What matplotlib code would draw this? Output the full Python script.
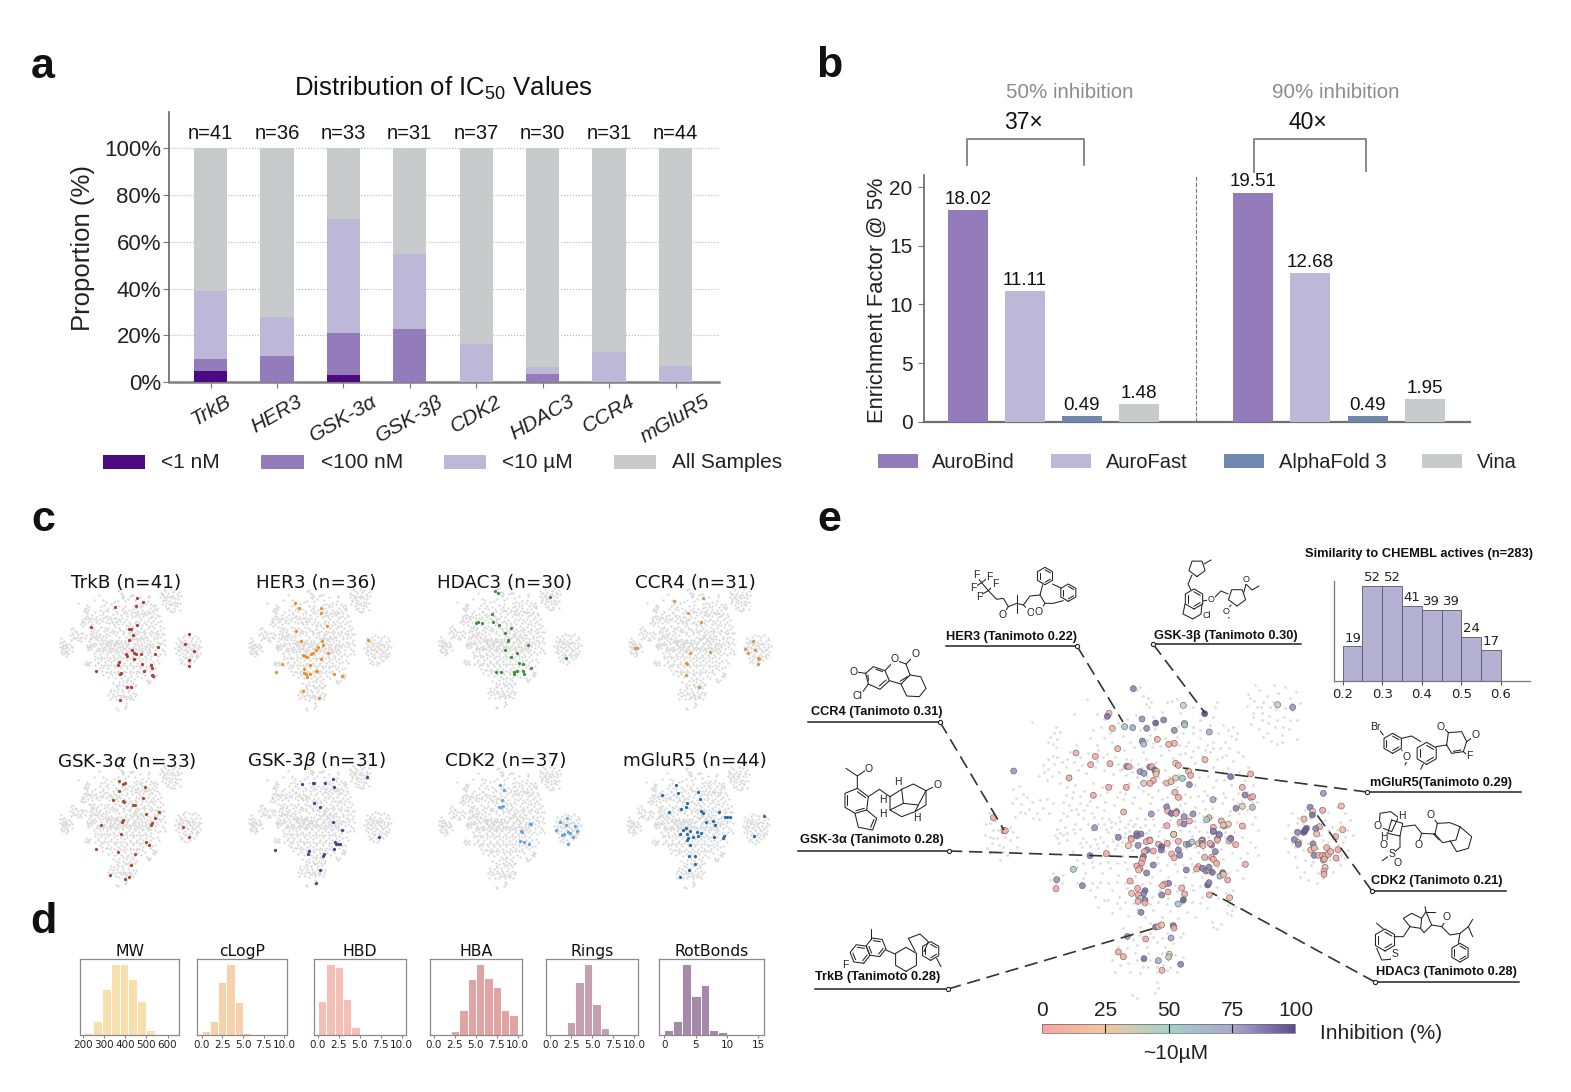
import matplotlib
matplotlib.use("Agg")
import matplotlib.pyplot as plt
import numpy as np
from matplotlib.colors import LinearSegmentedColormap, Normalize
from matplotlib.cm import ScalarMappable
from matplotlib.patches import Rectangle

plt.rcParams['font.family'] = ['Liberation Sans', 'DejaVu Sans']
plt.rcParams['mathtext.fontset'] = 'custom'
plt.rcParams['mathtext.rm'] = 'Liberation Sans'
plt.rcParams['mathtext.it'] = 'DejaVu Sans:italic'
plt.rcParams['mathtext.bf'] = 'Liberation Sans:bold'

W, H = 1571, 1092
WS, HS = 1568, 1090

# ---------- panel a ----------
targets = ['TrkB', 'HER3', 'GSK-3α', 'GSK-3β', 'CDK2', 'HDAC3', 'CCR4', 'mGluR5']
counts = [41, 36, 33, 31, 37, 30, 31, 44]
lt_1nM = [4.9, 0, 3.0, 0, 0, 0, 0, 0]
lt_100nM = [9.8, 11.1, 21.2, 22.6, 0, 3.3, 0, 0]
lt_10uM = [39.0, 27.8, 69.7, 54.8, 16.2, 6.6, 12.9, 6.8]
all_samples = [100] * 8
a_legend = ['<1 nM', '<100 nM', '<10 µM', 'All Samples']
a_colors = ['#4b0a82', '#947bb9', '#bdb8d8', '#c9cacb']

# ---------- panel b ----------
methods = ['AuroBind', 'AuroFast', 'AlphaFold 3', 'Vina']
ef_50 = [18.02, 11.11, 0.49, 1.48]
ef_90 = [19.51, 12.68, 0.49, 1.95]
b_colors = ['#947bb9', '#bdb8d8', '#7088b0', '#c9cacb']

# ---------- t-SNE background points ----------
gray_cloud = [
(490,78),(503,84),(512,96),(497,103),(508,112),(470,60),(480,52),(575,92),(590,88),(562,96),(712,96),(705,110),(320,88),(157,155),(282,132),
(805,72),(822,92),(838,60),(860,78),(882,44),(895,70),(915,52),(930,84),(948,66),(800,108),(818,128),(842,112),(866,138),(888,118),(912,142),
(936,120),(952,150),(812,162),(838,176),(862,190),(884,172),(905,196),(928,178),(950,206),(872,212),(890,222),(846,150),(960,100),(825,45),(880,95),
(350,132),(372,146),(362,170),(390,190),(415,160),(440,148),(468,135),(520,140),(545,126),(600,130),(640,110),(660,150),(700,140),(730,165),(745,180),
(228,172),(222,190),(210,202),(232,208),(218,222),(240,185),(205,215),(228,232),(760,170),(772,190),(752,198),(768,208),
(340,180),(330,205),(352,225),(372,205),(395,215),(430,198),(450,215),(480,180),(510,195),(525,178),(555,205),(590,200),(610,190),(625,215),(640,188),
(660,205),(680,225),(700,215),(720,235),(735,215),(288,225),(270,245),(300,262),(325,250),(355,240),(382,252),(405,262),(432,240),(462,232),(490,245),
(515,232),(542,255),(568,240),(600,252),(618,228),(640,242),(665,258),(690,245),(712,268),(738,255),(760,272),(790,258),(805,290),
(190,285),(205,298),(222,282),(238,305),(215,318),(200,330),(258,290),(270,315),(295,300),(318,310),(345,290),(372,300),(398,312),(425,298),(452,270),
(475,282),(498,268),(528,275),(555,300),(580,265),(610,290),(645,280),(672,300),(700,290),(725,310),(745,295),(778,305),(795,330),(820,345),
(240,340),(262,352),(285,345),(312,362),(340,340),(365,352),(395,345),(420,365),(448,340),(475,350),(505,372),(535,360),(560,380),(590,352),(615,372),
(645,345),(672,362),(700,350),(728,368),(752,345),(775,370),(800,365),(830,395),(100,358),(118,348),(130,372),(108,385),(95,400),(122,402),(142,380),(155,395),
(180,390),(200,388),(218,400),(190,415),(208,430),(172,428),(148,418),(135,430),(160,445),(178,448),(120,425),(105,440),
(250,395),(275,385),(300,400),(330,392),(352,410),(375,395),(402,405),(428,388),(455,400),(480,415),(510,398),(535,420),(560,400),(588,415),(615,398),
(645,410),(670,392),(695,415),(725,400),(750,422),(775,400),(800,420),(825,440),
(240,450),(262,438),(285,462),(310,445),(335,430),(342,440),(355,462),(372,420),(365,445),(392,455),(418,440),(445,462),(470,445),(495,465),(520,448),
(545,470),(570,450),(595,468),(620,445),(645,470),(670,455),(695,470),(720,448),(745,472),(770,455),(795,475),(815,462),(835,480),
(28,430),(45,452),(18,462),(62,470),(40,480),(75,500),(52,505),(15,495),(35,520),(70,530),(90,510),(48,545),(22,535),(80,555),(60,570),(100,485),(112,530),
(230,478),(240,490),(232,505),(248,495),(238,520),(225,495),(255,470),(262,510),(285,490),(310,505),(335,480),(360,500),(385,485),(410,505),(435,490),(460,510),
(485,495),(510,515),(535,498),(560,515),(585,495),(610,515),(635,498),(660,518),(685,500),(710,520),(735,500),(760,518),(785,500),(810,515),
(280,545),(305,530),(330,552),(355,535),(380,555),(405,538),(430,558),(455,540),(480,560),(505,542),(530,562),(555,545),(580,565),(605,545),(630,565),(655,545),
(680,568),(705,548),(730,568),(755,548),(780,565),(800,550),(825,530),(835,555),
(220,610),(235,625),(250,615),(228,640),(245,640),(210,630),(290,590),(315,610),(340,590),(365,610),(390,595),(415,615),(440,598),(465,618),(490,600),(515,620),
(540,600),(565,622),(590,602),(615,622),(640,605),(665,622),(690,608),(715,625),(740,610),(770,600),(790,625),(745,705),(755,720),(740,728),(765,712),(752,735),
(330,660),(352,650),(345,680),(355,712),(372,690),(395,660),(418,680),(442,655),(468,680),(492,660),(515,682),(540,660),(565,685),(590,662),(615,685),(640,660),
(665,680),(690,665),(715,685),(738,668),(760,660),(395,730),(420,715),(445,738),(470,718),(495,740),(520,720),(545,742),(570,722),(595,745),(620,725),(645,740),
(700,770),(712,778),(695,755),(722,762),(430,775),(455,790),(480,770),(510,790),(535,772),(560,790),(585,775),(610,790),
(410,850),(395,870),(420,885),(405,905),(430,860),(445,880),(465,850),(485,870),(505,850),(525,875),(545,850),(565,870),(585,855),(610,860),(600,880),(450,905),
(480,910),(505,890),(530,905),(560,900),(590,905),(470,825),(500,830),(530,815),(555,830),(580,820),(530,935),(535,955),(455,975),(470,985),(525,970),
(935,430),(955,445),(975,420),(995,405),(1020,415),(1045,425),(1070,410),(1095,430),(1110,450),(925,465),(945,480),(968,460),(990,445),(1010,465),(1035,450),
(1055,470),(1080,455),(1100,480),(1118,495),(915,505),(935,520),(955,500),(978,490),(1000,510),(1022,495),(1045,515),(1065,500),(1090,515),(925,545),(945,560),
(968,540),(990,555),(1012,535),(1035,555),(1060,540),(1082,555),(1105,540),(950,590),(972,605),(992,585),(1015,610),(1040,590),(1060,605),(1080,585),(985,630),(1010,640),
# denser parts of the map
(378,478),(392,470),(405,492),(418,476),(432,502),(446,484),(458,468),(472,498),(398,512),(412,526),(426,516),(440,530),(455,522),(470,534),(484,518),(498,532),
(382,528),(368,516),(352,522),(344,506),(330,528),(318,516),(300,520),(372,462),(388,446),(404,458),(420,452),(436,470),(450,450),(465,462),(480,472),(494,446),
(508,480),(522,466),(536,482),(550,462),(498,488),(512,502),(526,512),(540,524),(552,506),(566,530),(578,510),(592,528),(604,506),(618,534),(630,512),(644,530),
(656,506),(668,536),(682,516),(696,534),(708,510),(722,536),(600,480),(615,462),(628,484),(642,452),(656,482),(668,438),(682,486),(694,440),(708,490),(720,470),
(735,486),(748,436),(762,486),(776,430),(788,462),(560,430),(576,438),(592,432),(608,424),(624,436),(640,424),(656,430),(676,418),(600,405),(630,382),(655,378),
(680,376),(708,385),(735,380),(760,388),(785,392),(815,395),(360,375),(382,365),(410,380),(436,372),(462,382),(488,362),(515,382),(545,388),(572,368),(602,388),
(300,378),(278,365),(258,375),(268,405),(288,418),(312,420),(322,405),(250,428),(272,420),(295,432),(325,462),(300,476),(278,478),(262,488),
(420,300),(438,315),(456,305),(470,320),(486,295),(502,318),(518,305),(534,322),(546,335),(566,320),(578,335),(598,312),(612,328),(632,300),(658,322),(684,318),(708,330),(732,330),(760,320),
(370,260),(392,278),(415,282),(438,268),(460,292),(350,272),(330,280),(306,285),(282,275),(262,268),(245,275),(232,262),(218,258),(205,268),(192,305),(178,318),
(500,210),(520,218),(540,228),(575,220),(598,225),(615,250),(632,262),(655,230),(675,240),(700,235),(725,260),(748,235),(775,245),(595,168),(618,160),(640,170),(660,180),(690,165),(715,190),
(290,570),(310,580),(335,575),(360,580),(385,575),(410,580),(435,575),(460,582),(485,578),(510,585),(535,580),(560,585),(585,582),(610,585),(635,582),(660,588),(685,582),(715,590),
(290,640),(310,625),(335,640),(360,635),(385,640),(410,635),(435,640),(460,638),(485,642),(510,640),(535,645),(560,640),(585,645),(610,642),(635,645),(660,648),(685,642),(710,650),
(385,690),(410,698),(435,695),(460,700),(485,695),(510,702),(535,695),(560,702),(585,695),(610,700),(635,695),(660,700),(680,715),
(470,870),(490,890),(510,870),(530,890),(550,885),(570,890),(415,830),(440,835),(458,810),(520,800),(545,805),(575,805),(600,800),(480,795),(510,760),(540,755),(570,760),
(950,460),(970,475),(988,468),(1005,485),(1025,475),(1045,480),(1070,480),(938,500),(962,510),(985,520),(1008,530),(1030,510),(1050,530),(1075,525),(1095,500),(945,530),(975,570),(1000,575),(1025,575),(1050,570),(1075,570),(1095,565),(960,620),(1030,625),
(30,460),(55,480),(65,490),(30,500),(40,505),(58,525),(30,550),(70,545),(90,470),(110,500),
(810,85),(830,110),(850,95),(870,110),(895,100),(915,115),(935,100),(820,140),(845,130),(865,160),(890,150),(910,170),(930,150),(850,200),(905,215),
]
gray_x = [p[0] for p in gray_cloud]
gray_y = [p[1] for p in gray_cloud]

# ---------- panel c: hits on the map, per target ----------
c_titles = ['TrkB (n=41)', 'HER3 (n=36)', 'GSK-3$\\alpha$ (n=33)', 'GSK-3$\\beta$ (n=31)',
            'HDAC3 (n=30)', 'CCR4 (n=31)', 'CDK2 (n=37)', 'mGluR5 (n=44)']
c_colors = ['#b23b3b', '#e8912d', '#a8502e', '#5a3a96', '#3f8f3f', '#d09a50', '#66a3e0', '#2a6ea6']
trkb_pts = [(322,115),(340,125),(256,142),(317,138),(321,194),(183,202),(297,208),(303,207),(309,226),(297,241),(383,261),(305,270),(288,282),(290,289),(312,280),(318,283),(333,282),(311,296),(376,283),(335,312),(266,307),(264,315),(363,316),(366,325),(343,332),(272,338),(269,343),(198,332),(367,346),(370,349),(292,381),(303,381),(269,421),(477,221),(465,251),(491,273),(478,300),(477,318)]
her3_pts = [(796,128),(807,145),(873,144),(873,160),(892,199),(797,213),(814,243),(877,242),(880,255),(865,260),(858,270),(850,278),(843,281),(820,284),(826,288),(830,290),(894,279),(872,298),(840,316),(823,326),(756,312),(737,336),(823,340),(827,343),(840,341),(831,352),(858,332),(862,333),(913,342),(937,348),(819,394),(867,415),(1014,241)]
gsk3a_pts = [(268,664),(278,671),(284,670),(345,680),(267,692),(340,714),(250,721),(278,723),(282,725),(308,736),(315,736),(349,762),(387,757),(376,773),(278,780),(276,787),(366,790),(362,794),(213,796),(273,823),(348,846),(356,855),(198,867),(263,876),(315,883),(303,915),(240,946),(286,957),(297,952),(458,800),(477,832)]
gsk3b_pts = [(816,673),(848,670),(852,670),(885,670),(908,658),(913,680),(1010,650),(852,729),(869,740),(910,787),(937,811),(915,846),(918,851),(925,851),(931,851),(911,866),(838,873),(833,881),(882,882),(878,887),(736,870),(869,930),(858,968),(1046,832)]
hdac3_pts = [(225,93),(233,100),(215,162),(168,189),(175,186),(187,189),(220,187),(237,196),(272,204),(256,218),(265,240),(263,242),(325,254),(254,271),(292,279),(274,291),(297,310),(310,313),(333,325),(229,337),(243,336),(281,336),(283,343),(291,333),(309,333),(312,343),(391,112),(438,295)]
ccr4_pts = [(763,124),(850,114),(804,160),(843,187),(645,265),(650,265),(810,278),(871,277),(798,310),(800,313),(797,344),(838,380),(1000,243),(975,267),(1004,270),(983,280),(1013,295),(1017,297),(1013,313)]
cdk2_pts = [(240,675),(251,689),(245,721),(238,741),(244,741),(248,738),(330,793),(334,792),(303,812),(306,817),(299,843),(311,846),(326,851),(420,785),(442,775),(438,796),(409,810),(466,798),(445,816),(450,820),(432,822),(425,825),(458,832),(472,812),(444,852)]
mglur5_pts = [(768,675),(775,700),(725,706),(833,695),(840,718),(800,728),(797,741),(784,747),(746,757),(842,753),(848,758),(897,757),(914,771),(920,771),(930,771),(880,784),(884,796),(857,787),(797,804),(790,810),(810,812),(781,822),(802,822),(820,830),(832,815),(843,818),(835,829),(805,835),(802,840),(809,855),(882,831),(908,835),(912,827),(806,887),(824,887),(825,913),(806,930),(780,952),(1033,769),(1001,829)]
c_points = [trkb_pts, her3_pts, gsk3a_pts, gsk3b_pts, hdac3_pts, ccr4_pts, cdk2_pts, mglur5_pts]

# ---------- panel d ----------
d_titles = ['MW', 'cLogP', 'HBD', 'HBA', 'Rings', 'RotBonds']
mw_edges = [204, 247, 290, 332, 374, 415, 456, 498, 540]
mw_h = [3, 19, 65, 100, 100, 78, 47, 7]
clogp_edges = [0, 1, 2, 3, 4, 5, 6]
clogp_h = [5, 19, 74, 100, 46, 3]
hbd_edges = [0, 1, 2, 3, 4, 5]
hbd_h = [48, 100, 95, 50, 11]
hba_edges = [2, 3, 4, 5, 6, 7, 8, 9, 10]
hba_h = [5, 35, 78, 100, 80, 67, 35, 28]
rings_edges = [2, 3, 4, 5, 6, 7]
rings_h = [18, 75, 100, 43, 9]
rot_edges = [0, 1.45, 2.9, 4.3, 5.8, 7.2, 8.65, 10]
rot_h = [7, 20, 100, 55, 70, 7, 4]
d_colors = ['#f8dfae', '#f7d0ac', '#f4bfb4', '#e2a3a4', '#c7a0b0', '#a688a8']

# ---------- panel e ----------
# (map x, map y, inhibition %)
tested = [
(460,56,85),(610,106,35),(893,104,35),(938,112,80),(387,130,15),(382,139,90),(486,147,80),(527,159,95),(551,150,85),(434,170,55),(458,173,75),(500,175,82),(397,175,8),(613,160,50),(614,165,55),(583,181,82),(674,131,100),(688,186,72),(532,208,5),(487,213,85),(491,222,58),(566,223,5),(583,220,5),(288,249,5),(413,236,5),(346,259,3),(332,284,5),(390,281,5),(101,303,80),(675,269,12),(587,280,30),(595,286,3),(440,289,85),(447,290,5),(509,291,85),(516,290,5),(524,300,90),(530,304,30),(528,312,20),(480,305,82),(492,310,80),(625,303,15),(632,316,3),(752,320,90),(812,312,3),(267,324,5),(520,331,5),(510,340,5),(491,340,35),(560,339,12),(573,335,15),(587,324,30),(607,325,55),(628,344,85),(386,352,3),(439,352,3),(340,376,3),(585,367,6),(595,382,3),(787,352,3),(795,375,85),(812,382,3),(818,380,3),(699,389,75),(768,415,85),(787,409,30),(817,412,60),(431,426,5),(560,411,85),(563,423,3),(574,430,90),(590,425,85),(588,430,3),(514,432,80),(612,440,82),(639,432,82),(600,457,5),(628,453,5),(612,462,85),(687,443,10),(680,449,50),(561,467,3),(724,453,5),(733,468,3),(745,462,30),(730,465,20),(787,468,3),(700,472,3),(700,484,82),(344,473,80),(717,494,82),(581,493,30),(415,502,85),(453,505,5),(470,491,85),(483,492,85),(471,498,90),(508,510,5),(667,510,95),(752,505,85),(712,507,3),(40,443,3),(72,482,3),(76,482,10),
(454,508,5),(445,527,25),(474,526,82),(499,515,3),(510,512,5),(536,523,5),(562,520,5),(595,514,5),(545,530,95),(544,540,90),(595,540,85),(520,543,3),(501,540,85),(493,545,5),(575,552,15),(582,563,8),(599,556,85),(490,560,90),(488,568,5),(484,580,3),(471,588,5),(480,595,5),(476,600,20),(520,585,85),(500,609,85),(619,523,60),(627,522,85),(636,516,50),(656,521,25),(666,513,20),(666,520,85),(669,526,20),(695,525,85),(690,520,5),(712,510,5),(706,545,85),(674,562,8),(695,562,5),(700,568,5),(710,580,3),(619,600,85),(655,590,5),(650,597,5),(668,595,85),(678,603,85),(687,600,5),(697,607,90),(687,592,85),(720,618,60),(728,608,90),(730,613,20),(743,630,3),(796,583,5),(767,524,5),(747,513,30),(752,507,85),(718,494,85),(700,484,85),(581,493,30),(330,557,85),(379,551,3),(280,598,50),(230,629,80),(228,656,3),(307,647,85),(450,633,5),(473,655,3),(495,662,90),(490,672,85),(455,670,15),(475,675,5),(482,685,50),(474,694,5),(495,690,85),(495,699,10),(566,640,85),(554,642,5),(548,647,8),(564,666,3),(545,675,85),(605,654,8),(614,672,5),(610,690,95),(595,702,55),(688,675,5),(683,645,95),(687,638,85),(749,683,10),(483,727,85),(527,771,90),(535,770,5),(545,765,15),(580,767,90),(582,774,3),(442,799,80),(497,807,3),(573,804,75),(415,846,5),(430,860,5),(492,866,90),(535,872,70),(568,853,25),(566,861,40),(602,883,85),(546,901,5),
(1030,370,80),(990,412,85),(998,424,30),(1028,421,5),(997,435,90),(1084,408,12),(972,447,10),(1018,470,8),(1007,476,85),(979,475,95),(971,487,95),(975,482,95),(953,487,85),(1010,492,15),(1088,479,15),(1067,500,8),(943,509,85),(955,518,5),(955,523,85),(999,522,85),(1040,533,5),(992,540,15),(1003,534,12),(1074,539,3),(1003,556,85),(1016,556,5),(1028,556,10),(1037,557,12),(1045,553,10),(1052,545,10),(1068,564,5),(1030,570,58),(1033,567,3),(1035,592,30),(1032,604,5),(1032,613,3),
]
tested_x = [t[0] for t in tested]
tested_y = [t[1] for t in tested]
tested_v = [t[2] for t in tested]
inh_ticks = [0, 25, 50, 75, 100]
inh_colors = ['#f9a3a3', '#f0c8a0', '#a3d1c9', '#a9a8cf', '#5e4a8e']
sim_edges = [0.2, 0.25, 0.3, 0.35, 0.4, 0.45, 0.5, 0.55, 0.6]
sim_counts = [19, 52, 52, 41, 39, 39, 24, 17]
callouts = [
    # text, text centre x, text y, line x0, line x1, line y, circle x, circle y, end x, end y
    ('HER3 (Tanimoto 0.22)', 1012, 637, 946, 1077, 646, 1077, 646, 1123, 722),
    ('GSK-3β (Tanimoto 0.30)', 1226, 636, 1153, 1301, 644, 1153, 644, 1205, 713),
    ('CCR4 (Tanimoto 0.31)', 877, 712, 808, 940, 722, 940, 722, 1004, 830),
    ('GSK-3α (Tanimoto 0.28)', 872, 840, 798, 949, 851, 949, 851, 1138, 857),
    ('TrkB (Tanimoto 0.28)', 878, 977, 815, 948, 989, 948, 989, 1155, 928),
    ('mGluR5(Tanimoto 0.29)', 1441, 783, 1367, 1521, 792, 1367, 792, 1183, 768),
    ('CDK2 (Tanimoto 0.21)', 1437, 881, 1372, 1506, 891, 1372, 891, 1317, 815),
    ('HDAC3 (Tanimoto 0.28)', 1446, 972, 1375, 1519, 982, 1375, 982, 1212, 893),
]

# ---------- figure ----------
fig = plt.figure(figsize=(W / 100, H / 100), dpi=100, facecolor='white')


def box(x0, y0, x1, y1, **kw):
    return fig.add_axes([x0 / W, 1 - y1 / H, (x1 - x0) / W, (y1 - y0) / H], **kw)


def boxm(x0, y0, x1, y1, **kw):
    return fig.add_axes([x0 / WS, 1 - y1 / HS, (x1 - x0) / WS, (y1 - y0) / HS], **kw)


ov = box(0, 0, W, H, zorder=20)
ov.set_xlim(0, W)
ov.set_ylim(H, 0)
ov.axis('off')
ov.patch.set_alpha(0)
ovm = boxm(0, 0, WS, HS, zorder=21)
ovm.set_xlim(0, WS)
ovm.set_ylim(HS, 0)
ovm.axis('off')
ovm.patch.set_alpha(0)


def label(x, y, s, size, ha='center', va='center', **kw):
    ovm.text(x, y + 1.5, s, fontsize=size, ha=ha, va=va, **kw)


for s, x, y in [('a', 43, 65), ('b', 828, 64), ('c', 43, 518), ('d', 43, 919), ('e', 828, 518)]:
    label(x, y, s, 31, fontweight='bold', color='#111111')

# panel a
axa = boxm(169, 112, 718, 381.5)
xa = np.arange(len(targets))
for vals, col, z in [(all_samples, a_colors[3], 2), (lt_10uM, a_colors[2], 3), (lt_100nM, a_colors[1], 4), (lt_1nM, a_colors[0], 5)]:
    axa.bar(xa, vals, width=0.5, color=col, zorder=z)
axa.set_xlim(-0.62, 7.66)
axa.set_ylim(0, 115.5)
axa.set_yticks([0, 20, 40, 60, 80, 100])
axa.set_yticklabels(['0%', '20%', '40%', '60%', '80%', '100%'], fontsize=16, color='#222222')
axa.set_xticks(xa)
axa.set_xticklabels(targets, rotation=30, ha='center', fontsize=15, style='italic', color='#222222')
axa.tick_params(axis='x', pad=3, length=4, color='#777777')
axa.tick_params(axis='y', pad=2, length=4, color='#777777')
axa.grid(axis='y', color='#b5b5b5', ls=':', lw=0.8, zorder=1)
axa.set_axisbelow(True)
for sp in ['top', 'right']:
    axa.spines[sp].set_visible(False)
axa.spines['left'].set_color('#666666')
axa.spines['left'].set_linewidth(1.2)
axa.spines['bottom'].set_color('#808080')
axa.spines['bottom'].set_linewidth(1.8)
for x, n in zip(xa, counts):
    axa.text(x, 106.4, f'n={n}', ha='center', va='center', fontsize=14.5, color='#111111')
label(442, 87, 'Distribution of IC$_{50}$ Values', 18.5, color='#111111')
label(83, 246, 'Proportion (%)', 18.5, rotation=90, color='#222222')
for x0, tx, s, c in zip([103, 261, 443, 613], [161, 320, 501, 671], a_legend, a_colors):
    ovm.add_patch(Rectangle((x0, 454), 42, 14, color=c, lw=0))
    label(tx, 460.5, s, 15, ha='left', color='#222222')

# panel b
axb = boxm(922, 175, 1467, 421)
xb = [0, 1, 2, 3, 5, 6, 7, 8]
for x, v, c in zip(xb, ef_50 + ef_90, b_colors * 2):
    axb.bar(x, v, width=0.7, color=c, zorder=3)
    axb.text(x, v + 0.2, f'{v:.2f}', ha='center', va='bottom', fontsize=13.5, color='#111111')
axb.axvline(4, color='#777777', ls='--', lw=0.8)
axb.set_xlim(-0.77, 8.79)
axb.set_ylim(0, 21)
axb.set_yticks([0, 5, 10, 15, 20])
axb.set_xticks([])
axb.tick_params(axis='y', labelsize=15, length=4, color='#777777', labelcolor='#222222', pad=4)
for sp in ['top', 'right']:
    axb.spines[sp].set_visible(False)
axb.spines['left'].set_color('#666666')
axb.spines['left'].set_linewidth(1.2)
axb.spines['bottom'].set_color('#707070')
axb.spines['bottom'].set_linewidth(1.6)
label(876, 298, 'Enrichment Factor @ 5%', 15.8, rotation=90, color='#222222')
for x, s in [(1068, '50% inhibition'), (1333, '90% inhibition')]:
    label(x, 91, s, 14.8, color='#8c8c8c')
label(1022, 121, '37×', 16.5, color='#111111')
label(1305, 121, '40×', 16.5, color='#111111')
ovm.plot([965, 965, 1082, 1082], [165, 139, 139, 165], color='#808080', lw=1.3)
ovm.plot([1252, 1252, 1363, 1363], [172, 139, 139, 171], color='#808080', lw=1.3)
for x0, tx, s, c in zip([876, 1049, 1222, 1419], [930, 1104, 1277, 1474], methods, b_colors):
    ovm.add_patch(Rectangle((x0, 453), 40, 14, color=c, lw=0))
    label(tx, 460, s, 14.5, ha='left', color='#222222')

# panel c
blob_c = [(472, 270), (1040, 270), (472, 800), (1040, 800), (440, 265), (1010, 268), (440, 805), (1005, 805)]
origin_c = [(30, 560), (30, 560), (30, 560), (30, 560), (420, 560), (420, 560), (420, 560), (420, 560)]
title_c = [(126, 580), (316, 580), (126, 758), (316, 758), (504, 580), (694, 580), (505, 758), (694, 758)]
SC = 2.6
for pts, col, (bx, by), (ox, oy), ttl, (tx, ty) in zip(c_points, c_colors, blob_c, origin_c, c_titles, title_c):
    wx0, wx1 = bx - 420, bx + 70
    wy0, wy1 = by - 205, by + 200
    ax = box(ox + wx0 / 3, oy + wy0 / 3, ox + wx1 / 3, oy + wy1 / 3)
    ax.set_xlim(wx0, wx1)
    ax.set_ylim(wy1, wy0)
    ax.axis('off')
    ax.scatter(bx + (np.array(gray_x) - 1010) / SC, by + (np.array(gray_y) - 520) / SC, s=2.6, color='#d6d6d6', lw=0)
    ax.scatter([p[0] for p in pts], [p[1] for p in pts], s=5.5, color=col, lw=0, zorder=3)
    label(tx, ty, ttl, 13.2, family=['DejaVu Sans'], color='#111111')

# panel d
d_boxes = [(80, 179), (197, 286), (313, 405), (429, 521), (545, 637), (658, 763)]
d_xlim = [(186, 656), (-0.5, 10.25), (-0.5, 10.5), (-0.5, 10.5), (-0.5, 10.5), (-0.8, 16)]
d_ticks = [[200, 300, 400, 500, 600]] + [[0, 2.5, 5, 7.5, 10]] * 4 + [[0, 5, 10, 15]]
d_labels = [['200', '300', '400', '500', '600']] + [['0.0', '2.5', '5.0', '7.5', '10.0']] * 4 + [['0', '5', '10', '15']]
d_edges = [mw_edges, clogp_edges, hbd_edges, hba_edges, rings_edges, rot_edges]
d_heights = [mw_h, clogp_h, hbd_h, hba_h, rings_h, rot_h]
for (x0, x1), xl, tk, tl, ed, hh, c, t in zip(d_boxes, d_xlim, d_ticks, d_labels, d_edges, d_heights, d_colors, d_titles):
    ax = boxm(x0, 957, x1, 1033)
    ax.bar(ed[:-1], hh, width=np.diff(ed), align='edge', color=c, edgecolor='white', lw=0.7)
    ax.set_xlim(*xl)
    ax.set_ylim(0, 107)
    ax.set_yticks([])
    ax.set_xticks(tk)
    ax.set_xticklabels(tl, fontsize=7.5, family=['DejaVu Sans'], color='#222222')
    ax.tick_params(axis='x', length=2, pad=2, color='#888888')
    for sp in ax.spines.values():
        sp.set_color('#8a8a8a')
        sp.set_linewidth(0.9)
    label((x0 + x1) / 2, 948, t, 11.3, family=['DejaVu Sans'], color='#111111')

# panel e
cmap = LinearSegmentedColormap.from_list('inh', list(zip(np.array(inh_ticks) / 100, inh_colors)))
norm = Normalize(0, 100)
axe = box(980, 670, 1380, 1000)
axe.set_xlim(0, 1200)
axe.set_ylim(990, 0)
axe.axis('off')
axe.scatter(gray_x, gray_y, s=4, color='#dcdcdc', lw=0)
axe.scatter(tested_x, tested_y, c=tested_v, cmap=cmap, norm=norm, s=19, edgecolor='#55505a',
            linewidth=0.4, alpha=0.9, zorder=3)

for s, tx, ty, lx0, lx1, ly, cx, cy, ex, ey in callouts:
    ov.text(tx, ty, s, fontsize=9.2, fontweight='bold', color='#111111', ha='center', va='center')
    ov.plot([lx0, lx1], [ly, ly], color='#222222', lw=1.1)
    ov.plot([cx, ex], [cy, ey], color='#333333', lw=1.2, dashes=(8, 4))
    ov.plot([cx], [cy], 'o', ms=3, mfc='white', mec='#222222', mew=0.8)

axi = boxm(1331, 580, 1527, 680)
axi.bar(sim_edges[:-1], sim_counts, width=np.diff(sim_edges), align='edge', color='#b5b1d3',
        edgecolor='#55556a', lw=0.6)
for l, w, v in zip(sim_edges[:-1], np.diff(sim_edges), sim_counts):
    axi.text(l + w / 2, v + 1, str(v), ha='center', va='bottom', fontsize=9.5, family=['DejaVu Sans'], color='#222222')
axi.set_xlim(0.177, 0.673)
axi.set_ylim(0, 54.6)
axi.set_yticks([])
axi.set_xticks([0.2, 0.3, 0.4, 0.5, 0.6])
axi.set_xticklabels(['0.2', '0.3', '0.4', '0.5', '0.6'], fontsize=9.5, family=['DejaVu Sans'], color='#222222')
axi.tick_params(axis='x', length=3, pad=2, color='#555555')
for sp in ['top', 'right']:
    axi.spines[sp].set_visible(False)
for sp in ['left', 'bottom']:
    axi.spines[sp].set_color('#777777')
    axi.spines[sp].set_linewidth(0.9)
label(1416, 551, 'Similarity to CHEMBL actives (n=283)', 9.3, fontweight='bold', color='#111111')

cax = boxm(1040, 1022, 1293, 1031)
cb = fig.colorbar(ScalarMappable(norm=norm, cmap=cmap), cax=cax, orientation='horizontal', ticks=inh_ticks)
cax.xaxis.set_ticks_position('top')
cax.tick_params(axis='x', length=0, pad=3, labelsize=15, labelcolor='#222222')
cb.outline.set_linewidth(0.5)
cb.outline.set_edgecolor('#666666')
for v in inh_ticks[1:-1]:
    cax.axvline(v, color='#222222', lw=0.8)
label(1378, 1030, 'Inhibition (%)', 15, color='#222222')
label(1173, 1050, '~10µM', 15, color='#222222')

# ---------- molecule sketches (line art, not data) ----------
MC = '#222222'


def path(pts, closed=False, ox=0, oy=0, k=1 / 3):
    p = list(pts) + ([pts[0]] if closed else [])
    ov.plot([ox + a * k for a, b in p], [oy + b * k for a, b in p], color=MC, lw=0.75, solid_capstyle='round', zorder=5)


def hexa(cx, cy, r, ox=0, oy=0, k=1 / 3, n=6, rot=0.0, inner=True):
    ang = np.deg2rad(rot) + np.arange(n) * 2 * np.pi / n
    pts = [(cx + r * np.sin(a), cy + r * np.cos(a)) for a in ang]
    path(pts, True, ox, oy, k)
    if inner:
        for i in (0, 2, 4):
            a0, a1 = ang[i], ang[(i + 1) % n]
            path([(cx + .72 * r * np.sin(a0), cy + .72 * r * np.cos(a0)), (cx + .72 * r * np.sin(a1), cy + .72 * r * np.cos(a1))], False, ox, oy, k)


def atom(x, y, s, ox=0, oy=0, k=1 / 3, size=7.5):
    ov.text(ox + x * k, oy + y * k, s, fontsize=size, ha='center', va='center', color=MC, zorder=6,
            bbox=dict(fc='white', ec='none', pad=0.2))


# HER3
o = (800, 560)
hexa(735, 48, 26, *o); hexa(805, 98, 26, *o)
path([(545, 68), (565, 92), (590, 118), (610, 115), (625, 140), (650, 130), (670, 135), (690, 108), (720, 105), (735, 130), (760, 130), (790, 122)], False, *o)
path([(625, 140), (612, 160)], False, *o); path([(650, 105), (650, 160)], False, *o); path([(670, 135), (688, 152)], False, *o)
path([(735, 130), (722, 150)], False, *o); path([(720, 105), (728, 74)], False, *o); path([(757, 72), (783, 84)], False, *o)
path([(545, 68), (528, 48)], False, *o); path([(545, 68), (566, 52)], False, *o); path([(545, 68), (522, 82)], False, *o); path([(565, 92), (583, 74)], False, *o); path([(565, 92), (540, 106)], False, *o)
for x, y, s in [(528, 44, 'F'), (568, 50, 'F'), (520, 85, 'F'), (585, 72, 'F'), (537, 110, 'F'), (608, 165, 'O'), (692, 158, 'O'), (716, 155, 'O')]:
    atom(x, y, s, *o)
# CCR4
path([(197, 340), (220, 320), (255, 332), (268, 362), (240, 388), (205, 372)], True, *o)
path([(228, 328), (248, 335)], False, *o); path([(258, 360), (238, 378)], False, *o); path([(205, 362), (204, 345)], False, *o)
path([(255, 332), (285, 300), (318, 312), (330, 345), (303, 372), (268, 362)], False, *o)
path([(322, 350), (300, 364)], False, *o); path([(318, 312), (345, 285)], False, *o)
path([(330, 345), (362, 350), (378, 385), (358, 410), (320, 408), (303, 372)], False, *o)
path([(197, 340), (168, 336)], False, *o); path([(205, 372), (185, 400)], False, *o)
for x, y, s in [(160, 335, 'O'), (172, 408, 'Cl'), (285, 298, 'O'), (347, 283, 'O')]:
    atom(x, y, s, *o)
# GSK-3 alpha
o = (800, 750)
path([(172, 115), (205, 140), (200, 180), (165, 190), (135, 172), (135, 130)], True, *o)
path([(142, 165), (142, 136)], False, *o); path([(172, 125), (197, 143)], False, *o); path([(168, 182), (193, 175)], False, *o)
path([(200, 180), (230, 205), (218, 240), (175, 232), (165, 190)], False, *o); path([(222, 208), (212, 232)], False, *o)
path([(172, 115), (172, 78), (138, 55)], False, *o); path([(172, 78), (198, 60)], False, *o)
path([(205, 140), (238, 118), (270, 140), (305, 118), (340, 102), (378, 122), (378, 165), (345, 185), (305, 200), (270, 180), (270, 140)], False, *o)
path([(305, 118), (310, 160), (355, 165), (378, 122)], False, *o); path([(270, 180), (310, 160)], False, *o); path([(345, 185), (355, 165)], False, *o); path([(378, 122), (402, 110)], False, *o)
for x, y, s in [(207, 57, 'O'), (295, 97, 'H'), (250, 150, 'H'), (250, 192, 'H'), (352, 205, 'H'), (413, 105, 'O')]:
    atom(x, y, s, *o)
# TrkB
hexa(180, 612, 30, *o, rot=22); hexa(228, 592, 30, *o, rot=22)
path([(212, 566), (212, 538)], False, *o); path([(258, 600), (285, 612)], False, *o)
hexa(318, 628, 36, *o, inner=False); path([(346, 604), (325, 565), (360, 552), (385, 575), (372, 605)], False, *o)
hexa(392, 603, 28, *o); path([(410, 625), (423, 650)], False, *o)
atom(135, 645, 'F', *o)
# mGluR5
o = (1350, 710)
hexa(128, 100, 30, *o); path([(155, 85), (185, 78), (212, 95)], False, *o); hexa(230, 130, 33, *o)
path([(220, 162), (212, 178)], False, *o); path([(155, 120), (165, 138)], False, *o); path([(175, 145), (165, 165)], False, *o); path([(100, 75), (90, 62)], False, *o)
path([(258, 110), (290, 105), (295, 68), (335, 65), (350, 95), (340, 125), (305, 130), (290, 105)], False, *o)
path([(295, 68), (282, 55)], False, *o); path([(350, 95), (368, 82)], False, *o); path([(340, 125), (352, 135)], False, *o); path([(333, 120), (310, 124)], False, *o)
for x, y, s in [(75, 52, 'Br'), (170, 140, 'O'), (272, 50, 'O'), (377, 75, 'O'), (358, 138, 'F')]:
    atom(x, y, s, *o)
# CDK2
path([(88, 345), (90, 310), (122, 305), (145, 322), (125, 365), (100, 355)], False, *o)
path([(125, 330), (158, 340), (150, 378), (113, 370), (125, 330)], False, *o)
path([(158, 350), (195, 345), (215, 370), (255, 372), (262, 340), (300, 338), (330, 350), (318, 390), (278, 398), (255, 372)], False, *o)
path([(215, 370), (205, 400)], False, *o); path([(262, 340), (245, 318)], False, *o); path([(268, 390), (250, 372)], False, *o)
path([(330, 350), (365, 380), (355, 415), (320, 425), (300, 392)], False, *o)
path([(150, 378), (150, 412), (128, 430)], False, *o); path([(125, 432), (100, 410)], False, *o); path([(125, 432), (143, 456)], False, *o); path([(125, 432), (97, 452)], False, *o)
for x, y, s in [(82, 348, 'O'), (155, 318, 'H'), (103, 380, 'H'), (205, 405, 'O'), (243, 315, 'O'), (125, 432, 'S'), (100, 406, 'O'), (143, 460, 'O')]:
    atom(x, y, s, *o)
# HDAC3
hexa(105, 690, 33, *o); path([(100, 657), (80, 640)], False, *o)
path([(80, 715), (95, 750), (122, 748), (133, 725)], False, *o)
path([(132, 680), (160, 680), (180, 650), (160, 625), (185, 610), (215, 625), (212, 655), (180, 650)], False, *o)
path([(215, 625), (228, 605), (245, 645), (222, 668), (212, 655)], False, *o); path([(228, 605), (225, 590)], False, *o); path([(228, 605), (255, 605)], False, *o)
path([(245, 645), (275, 650), (290, 628)], False, *o); path([(275, 650), (300, 675), (330, 670), (355, 650), (368, 628)], False, *o); path([(355, 650), (368, 680)], False, *o)
path([(330, 670), (325, 700)], False, *o); hexa(330, 728, 28, *o)
atom(135, 733, 'S', *o); atom(290, 622, 'O', *o)
# GSK-3 beta (full-size pixels)
hexa(1197, 568, 8.5, n=5, inner=False, k=1); path([(1204, 564), (1211, 560)], k=1); path([(1192, 575), (1188, 584), (1191, 590)], k=1)
hexa(1194, 599, 10, k=1); path([(1185, 604), (1183, 614), (1193, 619), (1201, 614), (1202, 604)], k=1)
path([(1203, 601), (1209, 600)], k=1); path([(1214, 598), (1221, 591), (1228, 594)], k=1)
hexa(1237, 597, 9, n=5, inner=False, k=1); path([(1244, 592), (1246, 584)], k=1); path([(1246, 584), (1252, 590), (1259, 586)], k=1)
path([(1231, 605), (1226, 612), (1229, 618)], k=1)
atom(1211, 600, 'O', k=1, size=6.5); atom(1207, 616, 'Cl', k=1, size=6.5); atom(1246, 579, 'O', k=1, size=6.5); atom(1226, 612, 'O', k=1, size=6.5)

fig.savefig('out.png', dpi=100, facecolor='white')
